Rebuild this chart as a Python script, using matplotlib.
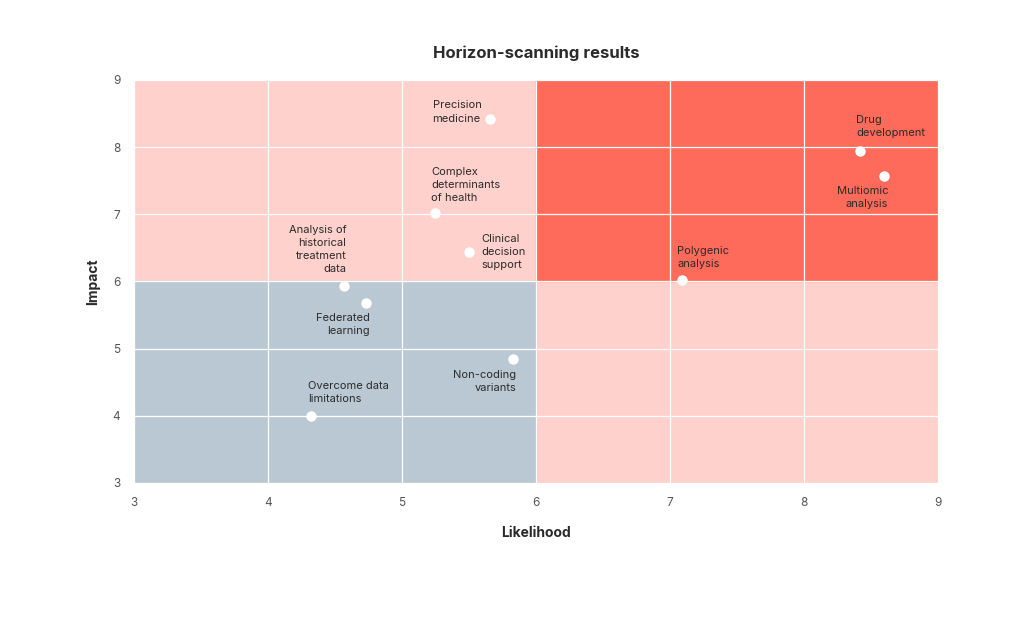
import matplotlib.pyplot as plt
from matplotlib.patches import Rectangle

plt.rcParams['font.family'] = ['Inter', 'DejaVu Sans']

title = "Horizon-scanning results"
x_label = "Likelihood"
y_label = "Impact"
ticks = [3, 4, 5, 6, 7, 8, 9]

names = ["Precision\nmedicine", "Drug\ndevelopment", "Multiomic\nanalysis",
         "Complex\ndeterminants\nof health", "Clinical\ndecision\nsupport",
         "Polygenic\nanalysis", "Analysis of\nhistorical\ntreatment\ndata",
         "Federated\nlearning", "Non-coding\nvariants", "Overcome data\nlimitations"]
likelihood = [5.66, 8.42, 8.60, 5.25, 5.50, 7.09, 4.57, 4.73, 5.83, 4.32]
impact = [8.42, 7.94, 7.57, 7.02, 6.44, 6.02, 5.93, 5.68, 4.85, 4.00]

# label placement: (dx px, dy px, ha, va, multialign)
label_pos = [(-9, 7, 'right', 'center', 'left'),
             (-4, 13, 'left', 'bottom', 'left'),
             (4, -10, 'right', 'top', 'right'),
             (-4, 10, 'left', 'bottom', 'left'),
             (12, 0, 'left', 'center', 'left'),
             (-5, 11, 'left', 'bottom', 'left'),
             (2, 12, 'right', 'bottom', 'right'),
             (4, -10, 'right', 'top', 'right'),
             (3, -11, 'right', 'top', 'right'),
             (-3, 12, 'left', 'bottom', 'left')]

pink = "#FFD1CC"
red = "#FF6B5A"
grey = "#BAC8D3"
ink = "#2b2b2b"

fig = plt.figure(figsize=(10.27, 6.2), dpi=100)
ax = fig.add_axes([0.1305, 0.221, 0.7828, 0.650])

ax.add_patch(Rectangle((3, 3), 6, 6, color=pink, zorder=0))
ax.add_patch(Rectangle((3, 3), 3, 3, color=grey, zorder=0))
ax.add_patch(Rectangle((6, 6), 3, 3, color=red, zorder=0))

ax.set_xlim(3, 9)
ax.set_ylim(3, 9)
ax.set_xticks(ticks)
ax.set_yticks(ticks)
ax.grid(True, color='white', linewidth=0.9, zorder=1)
ax.set_axisbelow(False)
for s in ax.spines.values():
    s.set_visible(False)
ax.tick_params(length=0, labelsize=8.5, labelcolor='#555555')
ax.tick_params(axis='x', pad=10)
ax.tick_params(axis='y', pad=10)

ax.plot(likelihood, impact, 'o', color='white', markersize=6.5, zorder=3)

for n, x, y, (dx, dy, ha, va, ma) in zip(names, likelihood, impact, label_pos):
    ax.annotate(n, (x, y), xytext=(dx, dy), textcoords='offset pixels',
                ha=ha, va=va, multialignment=ma, fontsize=8,
                color=ink, linespacing=1.4, zorder=4)

ax.set_title(title, fontsize=12, fontweight='bold', color=ink, pad=16)
ax.set_xlabel(x_label, fontsize=10, fontweight='bold', color=ink, labelpad=12)
ax.set_ylabel(y_label, fontsize=10, fontweight='bold', color=ink, labelpad=9)

fig.savefig("out.png", dpi=100)
